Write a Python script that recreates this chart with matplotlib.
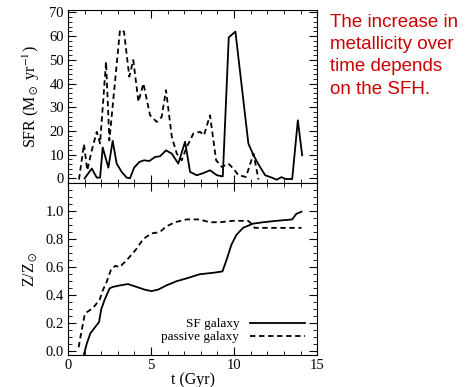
import matplotlib
matplotlib.use('Agg')
import matplotlib.pyplot as plt
from matplotlib.ticker import MultipleLocator, FormatStrFormatter

# star formation histories (Msun/yr) vs time (Gyr)
t_sf = [1.0, 1.43, 1.73, 1.93, 2.09, 2.43, 2.69, 2.93, 3.23, 3.53, 3.73, 3.98, 4.3, 4.58,
        4.9, 5.24, 5.54, 5.9, 6.25, 6.64, 7.05, 7.35, 7.75, 8.15, 8.55, 8.96, 9.32, 9.68,
        10.08, 10.86, 11.17, 11.47, 11.87, 12.27, 12.57, 12.85, 13.1, 13.5, 13.84, 14.1]
sfr_sf = [0.0, 4.1, 0.3, 0.3, 13.0, 4.5, 15.8, 6.2, 2.7, 0.3, 0.0, 4.5, 6.9, 7.6,
          7.3, 9.0, 9.3, 11.8, 10.4, 6.2, 15.4, 2.7, 1.3, 2.2, 3.4, 1.3, 0.8, 59.5,
          61.9, 14.7, 9.7, 5.9, 1.3, 0.3, -0.6, 0.5, -0.3, -0.3, 24.5, 9.7]

t_pas = [0.66, 0.96, 1.16, 1.43, 1.73, 1.93, 2.29, 2.49, 3.13, 3.37, 3.69, 3.93, 4.24,
         4.54, 4.94, 5.34, 5.64, 5.9, 6.25, 6.55, 6.85, 7.15, 7.55, 7.95, 8.19, 8.55,
         8.92, 9.26, 9.66, 9.96, 10.26, 10.72, 11.17, 11.47]
sfr_pas = [-0.5, 14.4, 3.4, 11.8, 19.6, 14.7, 49.2, 16.0, 62.6, 61.9, 42.9, 49.9, 32.3,
           40.0, 26.6, 23.8, 25.9, 37.2, 17.5, 10.4, 7.6, 13.2, 18.9, 19.6, 18.2, 26.6,
           7.6, 4.8, 6.2, 4.1, 1.3, 0.6, 10.4, -0.5]

# metallicity evolution (Z/Zsun)
tz_sf = [0.96, 1.14, 1.35, 1.61, 1.87, 2.0, 2.21, 2.51, 2.71, 3.11, 3.61, 4.12, 4.62,
         5.02, 5.42, 5.92, 6.53, 7.13, 7.93, 8.73, 9.3, 9.54, 9.84, 10.14, 10.54, 11.14,
         11.75, 12.55, 13.5, 13.75, 14.06]
z_sf = [-0.02, 0.06, 0.13, 0.17, 0.21, 0.30, 0.37, 0.45, 0.46, 0.47, 0.48, 0.46, 0.44,
        0.43, 0.44, 0.47, 0.50, 0.52, 0.55, 0.56, 0.57, 0.65, 0.76, 0.83, 0.88, 0.91,
        0.92, 0.93, 0.94, 0.98, 0.995]

tz_pas = [0.64, 0.76, 1.0, 1.14, 1.51, 1.91, 2.11, 2.31, 2.61, 2.87, 3.11, 3.61, 4.12,
          4.52, 5.02, 5.52, 5.92, 6.43, 7.13, 7.93, 8.53, 9.14, 9.94, 10.84, 11.14, 11.24,
          14.06]
z_pas = [0.03, 0.11, 0.26, 0.28, 0.31, 0.37, 0.44, 0.49, 0.59, 0.61, 0.60, 0.66, 0.73,
         0.80, 0.84, 0.85, 0.89, 0.92, 0.94, 0.94, 0.92, 0.92, 0.93, 0.93, 0.90, 0.88,
         0.88]

note = "The increase in\nmetallicity over\ntime depends\non the SFH."

plt.rcParams['font.family'] = ['Liberation Serif', 'DejaVu Serif']
plt.rcParams['mathtext.fontset'] = 'stix'

fig = plt.figure(figsize=(4.74, 3.87), dpi=100)
ax1 = fig.add_axes([0.1435, 0.527, 0.5255, 0.447])
ax2 = fig.add_axes([0.1435, 0.0827, 0.5255, 0.4443])

ax1.plot(t_sf, sfr_sf, color='black', lw=1.3)
ax1.plot(t_pas, sfr_pas, color='black', lw=1.3, ls=(0, (3, 2)))
ax1.set_xlim(0, 15)
ax1.set_ylim(-2, 71)
ax1.set_ylabel(r'SFR (M$_\odot$ yr$^{-1}$)', fontsize=11.5, labelpad=5)
ax1.yaxis.set_major_locator(MultipleLocator(10))
ax1.yaxis.set_minor_locator(MultipleLocator(2))
ax1.tick_params(labelbottom=False)

ax2.plot(tz_sf, z_sf, color='black', lw=1.3, label='SF galaxy')
ax2.plot(tz_pas, z_pas, color='black', lw=1.3, ls=(0, (3, 2)), label='passive galaxy')
ax2.set_xlim(0, 15)
ax2.set_ylim(-0.025, 1.199)
ax2.set_ylabel(r'Z/Z$_\odot$', fontsize=11.5, labelpad=5)
ax2.set_xlabel('t (Gyr)', fontsize=11.5, labelpad=0)
ax2.yaxis.set_major_locator(MultipleLocator(0.2))
ax2.yaxis.set_minor_locator(MultipleLocator(0.05))
ax2.yaxis.set_major_formatter(FormatStrFormatter('%.1f'))
ax2.legend(loc='lower right', frameon=False, markerfirst=False, fontsize=9.5,
           handlelength=4.2, labelspacing=0.05, borderaxespad=0.5)

for ax in (ax1, ax2):
    ax.xaxis.set_major_locator(MultipleLocator(5))
    ax.xaxis.set_minor_locator(MultipleLocator(1))
    ax.tick_params(which='both', direction='in', top=True, right=True,
                   labelsize=10.5, pad=3)
    ax.tick_params(which='major', length=6, width=0.8)
    ax.tick_params(which='minor', length=3, width=0.6)

fig.text(0.697, 0.965, note, color='#cc0000', fontsize=13.5, va='top', ha='left',
         family=['Liberation Sans', 'DejaVu Sans'], linespacing=1.42)

fig.savefig('out.png', dpi=100)
